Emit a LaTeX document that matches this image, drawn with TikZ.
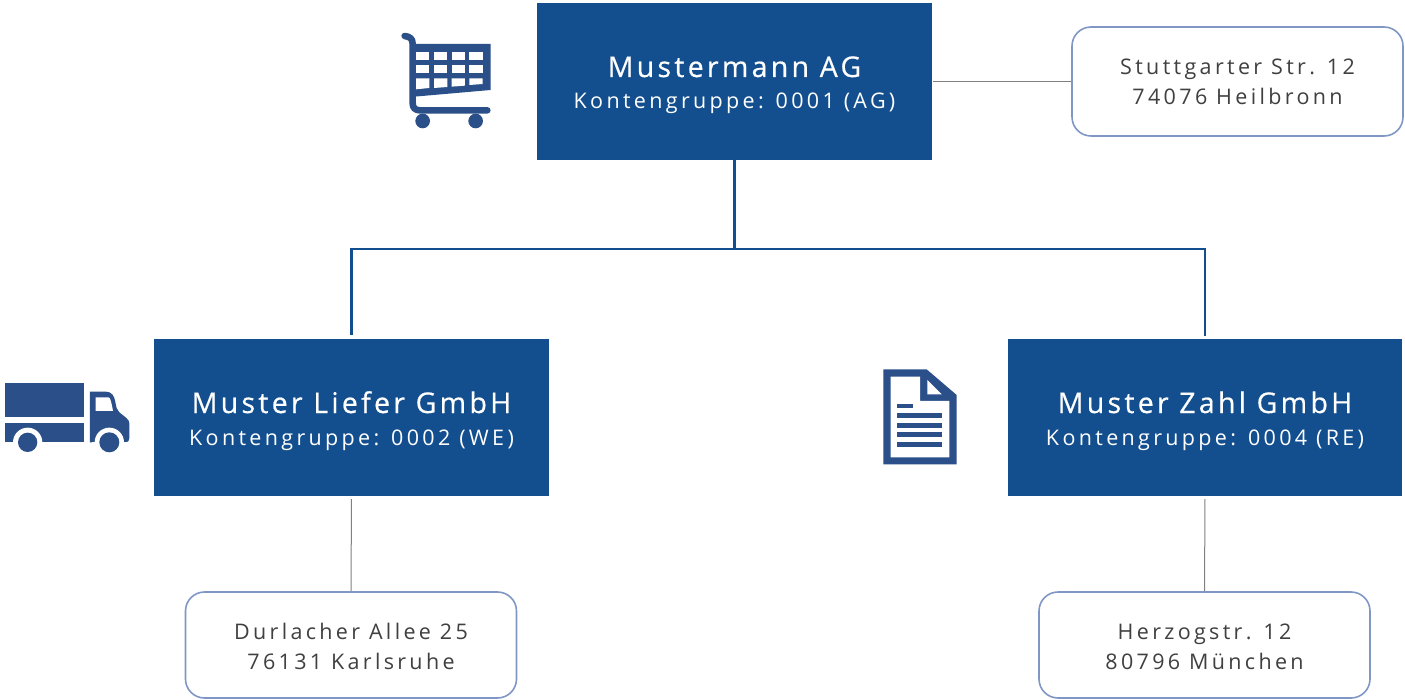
\documentclass[tikz,border=0pt]{standalone}
\usepackage{fontspec}
\setmainfont{Open Sans}
\newfontfamily\titlef[LetterSpace=11.5,FakeBold=0.5]{Open Sans}
\newfontfamily\subf[LetterSpace=15.5]{Open Sans}
\newfontfamily\addrf[LetterSpace=15.5]{Open Sans}
\definecolor{boxblue}{HTML}{134F8E}
\definecolor{iconblue}{HTML}{2B5089}
\definecolor{edgeblue}{HTML}{8097C5}
\definecolor{addrtext}{HTML}{404040}
\definecolor{thinline}{HTML}{808080}
\tikzset{
  orgbox/.style={fill=boxblue,text=white,align=center,inner sep=0pt,minimum width=395pt,minimum height=157pt,text height=70pt,text depth=15pt,font=\fontsize{21.5}{32}\selectfont},
  addrbox/.style={draw=edgeblue,line width=1.6pt,rounded corners=19pt,fill=white,text=addrtext,align=center,inner sep=0pt,minimum width=331pt,minimum height=106pt,text height=60pt,text depth=11pt,font=\addrf\fontsize{21.5}{30}\selectfont},
  treeline/.style={draw=boxblue,line width=2.2pt},
  grayline/.style={draw=thinline,line width=1pt},
  icon/.style={fill=iconblue,draw=none},
  iconcut/.style={fill=white,draw=none}
}
\newcommand{\orgtext}[2]{\titlef\fontsize{28.5}{32}\selectfont #1\\\subf\fontsize{21.5}{32}\selectfont #2}
\begin{document}
\begin{tikzpicture}[x=1pt,y=-1pt]
\useasboundingbox (0,0) rectangle (1405,700);
% nodes
\node[orgbox] (ag) at (734.5,81.5) {\orgtext{Mustermann AG}{Kontengruppe: 0001 (AG)}};
\node[orgbox] (we) at (351.5,417.5) {\orgtext{Muster Liefer GmbH}{Kontengruppe: 0002 (WE)}};
\node[orgbox,minimum width=394pt] (re) at (1205,417.5) {\orgtext{Muster Zahl GmbH}{Kontengruppe: 0004 (RE)}};
\node[addrbox,minimum height=109pt,text depth=13pt] (addrag) at (1237.5,81.5) {Stuttgarter Str. 12\\74076 Heilbronn};
\node[addrbox] (addrwe) at (351,645) {Durlacher Allee 25\\76131 Karlsruhe};
\node[addrbox] (addrre) at (1204.5,645) {Herzogstr. 12\\80796 München};
% connectors
\coordinate (hub) at (734.5,249);
\draw[treeline] (ag.south) -- (hub);
\draw[treeline,shorten >=4pt] (hub) -| (we.north);
\draw[treeline,shorten >=3pt] (hub) -| (re.north);
\draw[grayline,shorten <=1pt] (ag.east) -- (addrag.west);
\draw[grayline,shorten <=3pt] (we.south) -- (addrwe.north);
\draw[grayline,shorten <=3pt] (re.south) -- (addrre.north);
% cart
\begin{scope}[shift={(390,20)},x=0.3333pt,y=-0.3333pt]
\draw[iconblue,line width=6.6pt,line cap=round,line join=round] (44,48) .. controls (60,50) and (68,56) .. (68,72) -- (68,250) .. controls (68,264) and (76,271) .. (90,271) -- (292,271);
\fill[icon] (62,72) -- (302,72) -- (302,210) -- (62,231) -- cycle;
\foreach \xa/\xb in {78/118,132/172,185/225,238/278}{
  \fill[iconcut] (\xa,95) rectangle (\xb,120);
  \fill[iconcut] (\xa,134) rectangle (\xb,158);
}
\fill[iconcut] (78,175) -- (118,175) -- (118,204) -- (78,208) -- cycle;
\fill[iconcut] (132,175) -- (172,175) -- (172,201) -- (132,204) -- cycle;
\fill[iconcut] (185,175) -- (225,175) -- (225,197) -- (185,200) -- cycle;
\fill[iconcut] (238,175) -- (278,175) -- (278,192) -- (238,195) -- cycle;
\fill[icon] (98,303) circle[radius=22];
\fill[icon] (257,303) circle[radius=22];
\end{scope}
% truck
\begin{scope}[shift={(0,370)},x=0.3333pt,y=-0.3333pt]
\fill[icon] (16,38) rectangle (253,141);
\fill[icon] (16,158) rectangle (253,217);
\fill[icon] (270,65) -- (318,65) .. controls (335,65) and (343,78) .. (346,95) .. controls (349,112) and (350,120) .. (358,127) -- (378,143) .. controls (385,149) and (388,153) .. (388,160) -- (388,205) .. controls (388,213) and (384,217) .. (376,217) -- (270,217) -- cycle;
\fill[iconcut] (287,82) -- (325,82) .. controls (330,82) and (333,90) .. (339,123) -- (287,123) -- cycle;
\fill[iconcut] (83,217) circle[radius=44];
\fill[iconcut] (328,217) circle[radius=44];
\fill[iconcut] (30,217) rectangle (140,230);
\fill[iconcut] (275,217) rectangle (385,230);
\fill[icon] (83,217) circle[radius=29];
\fill[icon] (328,217) circle[radius=30];
\end{scope}
% document
\begin{scope}[shift={(870,360)},x=0.3333pt,y=-0.3333pt]
\fill[icon] (40,28) -- (170,28) -- (260,105) -- (260,313) -- (40,313) -- cycle;
\fill[iconcut] (62,50) -- (150,50) -- (150,123) -- (238,123) -- (238,292) -- (62,292) -- cycle;
\fill[iconcut] (172,60) -- (215,103) -- (172,103) -- cycle;
\fill[icon] (82,131) rectangle (128,145);
\fill[icon] (82,160) rectangle (217,175);
\fill[icon] (82,189) rectangle (217,203);
\fill[icon] (82,217) rectangle (217,232);
\fill[icon] (82,245) rectangle (217,260);
\end{scope}
\end{tikzpicture}
\end{document}
